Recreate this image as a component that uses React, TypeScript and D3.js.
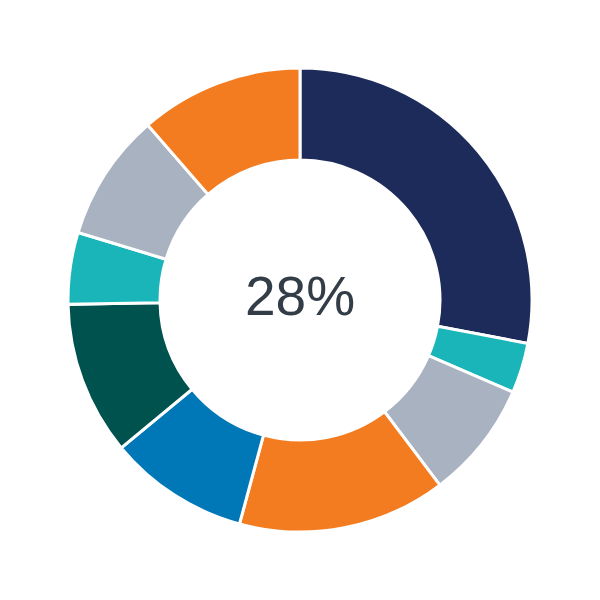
import React, { useEffect, useRef } from "react";
import * as d3 from "d3";

const segments = ["A", "B", "C", "D", "E", "F", "G", "H", "I"];
const values = [28, 3.5, 8.2, 14.5, 9.8, 10.7, 5, 8.9, 11.4];
const colors = [
  "#1c2b5a",
  "#1ab5b8",
  "#a8b2c0",
  "#f37b20",
  "#0077b6",
  "#00524f",
  "#1ab5b8",
  "#a8b2c0",
  "#f37b20",
];
const centerLabel = "28%";

const App: React.FC = () => {
  const svgRef = useRef<SVGSVGElement | null>(null);

  useEffect(() => {
    if (!svgRef.current) return;
    const width = 600;
    const height = 600;

    d3.select(svgRef.current).selectAll("*").remove();
    const svg = d3
      .select(svgRef.current)
      .attr("width", width)
      .attr("height", height);

    const g = svg.append("g").attr("transform", "translate(300,300)");

    const pie = d3
      .pie<number>()
      .sort(null)
      .value((d) => d);

    const arc = d3
      .arc<d3.PieArcDatum<number>>()
      .innerRadius(140)
      .outerRadius(232);

    g.selectAll("path")
      .data(pie(values))
      .enter()
      .append("path")
      .attr("d", arc)
      .attr("fill", (_, i) => colors[i])
      .attr("stroke", "#fff")
      .attr("stroke-width", 3)
      .append("title")
      .text((_, i) => segments[i]);

    g.append("text")
      .attr("x", 0)
      .attr("y", 15)
      .attr("text-anchor", "middle")
      .attr("fill", "#333d47")
      .style("font-family", "'Liberation Sans', Arial, sans-serif")
      .style("font-size", "55px")
      .text(centerLabel);
  }, []);

  return (
    <div style={{ position: "absolute", left: 0, top: 0, background: "#fff" }}>
      <svg ref={svgRef}></svg>
    </div>
  );
};

export default App;
